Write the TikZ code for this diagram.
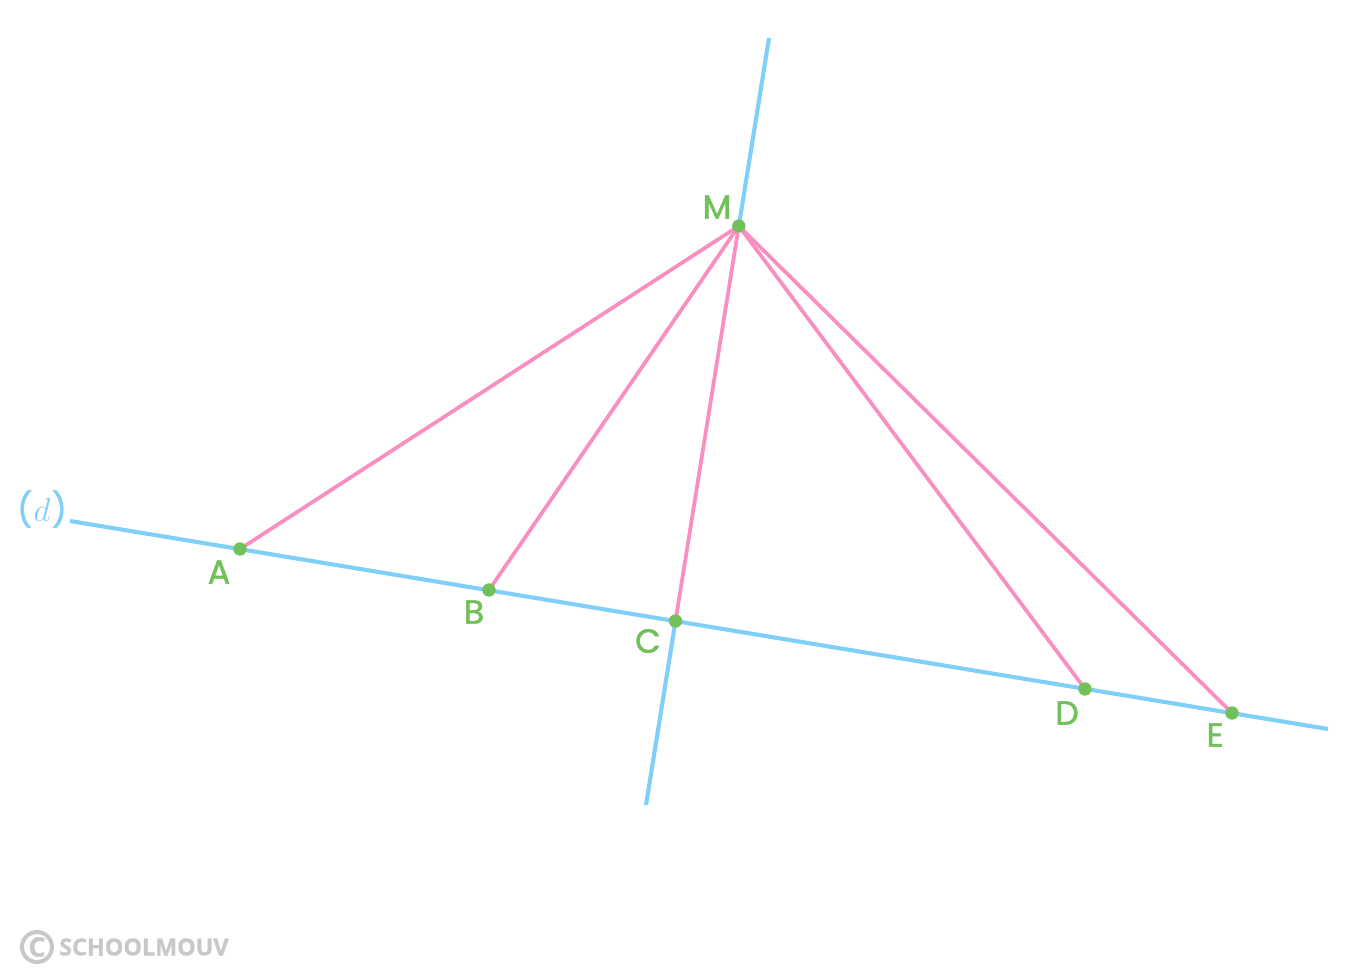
\documentclass[tikz,border=0pt]{standalone}
\usepackage{fontspec}
\setmainfont{Poppins}
\newfontfamily\lblfont{Poppins}[FakeBold=1.6]
\newfontfamily\logofont{Open Sans}[FakeBold=1.2]
\definecolor{lblue}{HTML}{80CFF8}
\definecolor{lpink}{HTML}{F88FC0}
\definecolor{lgreen}{HTML}{72C05A}
\definecolor{lgray}{HTML}{C8C8C8}
\begin{document}
\begin{tikzpicture}[x=0.75pt,y=-0.75pt,
  blueline/.style={draw=lblue,line width=3.1pt},
  pinkline/.style={draw=lpink,line width=2.8pt},
  ptdot/.style={circle,fill=lgreen,inner sep=0pt,minimum size=10pt},
  ptlabel/.style={text=lgreen,font=\lblfont\fontsize{25}{25}\selectfont,inner sep=0pt}]
\useasboundingbox (0,0) rectangle (1366,967);
% points
\coordinate (d1) at (70,521);
\coordinate (d2) at (1328,729);
\coordinate (p1) at (769,38);
\coordinate (p2) at (646,805);
\coordinate (A) at (240,549);
\coordinate (B) at (489,590);
\coordinate (C) at (675.5,621);
\coordinate (D) at (1085,689);
\coordinate (E) at (1232,713);
\coordinate (M) at (738.8,226);
% lines
\draw[blueline] (d1) -- (d2);
\draw[blueline] (p1) -- (M);
\draw[blueline] (C) -- (p2);
\foreach \P in {A,B,C,D,E} \draw[pinkline] (M) -- (\P);
\foreach \P in {A,B,C,D,E,M} \node[ptdot] at (\P) {};
% labels
\node[ptlabel] (lA) at (219,572) {A};
\node[ptlabel] (lB) at (474,612) {B};
\node[ptlabel] (lC) at (648,641) {C};
\node[ptlabel] (lD) at (1067,713) {D};
\node[ptlabel] (lE) at (1215,735) {E};
\node[ptlabel] (lM) at (717,207) {M};
\node[text=lblue,font=\lblfont\fontsize{25}{25}\selectfont,inner sep=0pt] (ld) at (42,509) {(\kern1pt$d$\kern1pt)};
% logo
\draw[lgray,line width=3pt] (37,947) circle (15);
\node[text=lgray,font=\logofont\bfseries\fontsize{20}{20}\selectfont,inner sep=0pt] (lc) at (37,947) {C};
\node[text=lgray,font=\logofont\bfseries\fontsize{17.5}{17.5}\selectfont,inner sep=0pt,anchor=west] (logo) at (59,947) {SCHOOLMOUV};
\end{tikzpicture}
\end{document}
